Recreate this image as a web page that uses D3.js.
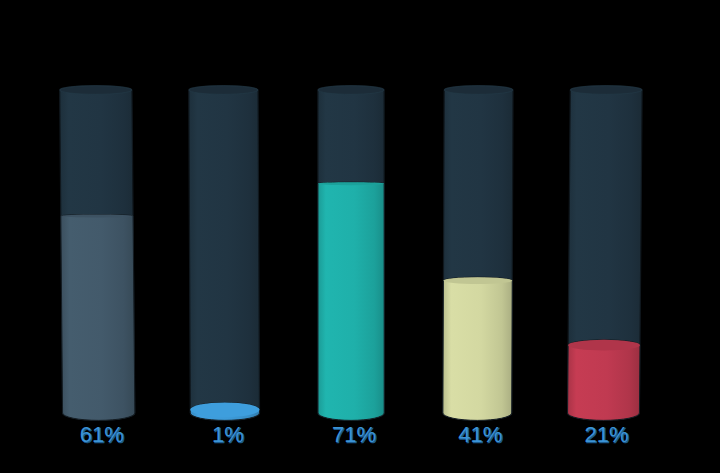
<!DOCTYPE html>
<html>
<head>
<meta charset="utf-8">
<script src="https://cdn.jsdelivr.net/npm/d3@7"></script>
<style>
  html, body { margin: 0; padding: 0; background: #000; }
  svg { display: block; }
</style>
</head>
<body>
<svg id="lienzo" width="720" height="473"></svg>
<script>
// datos del gráfico
const categorias = ['A', 'B', 'C', 'D', 'E'];
const valores = [61, 1, 71, 41, 21];
const etiquetas = ['61%', '1%', '71%', '41%', '21%'];
const colores = ['#435a6b', '#3d9bd9', '#1fb0aa', '#d3d8a1', '#c03a51'];

const ancho = 720, alto = 473;
const svg = d3.select('#lienzo');

svg.append('rect').attr('width', ancho).attr('height', alto).attr('fill', '#000');

const x = d3.scaleBand()
    .domain(categorias)
    .range([32, 670])
    .paddingInner(0.45)
    .paddingOuter(0.225);

const y = d3.scaleLinear()
    .domain([0, 100])
    .range([413, 90]);

// radio horizontal: los cilindros de los lados se ven algo más anchos
const rxDe = c => 33 * (1 + 0.00036 * Math.abs(c - 360));

// un poco de perspectiva: altura de la elipse según distancia a la línea de ojo
const ojoY = 200;
const ry = yy => 1 + 0.03 * Math.abs(yy - ojoY);
// inclinación de los cilindros hacia el centro en la parte baja
const cxAt = (c, yy) => {
    const t = (yy - y(100)) / (y(0) - y(100));
    return c + (360 - c) * 0.011 * t;
};

const defs = svg.append('defs');

function gradiente(id, color, k) {
    const c = d3.color(color);
    const g = defs.append('linearGradient').attr('id', id)
        .attr('x1', '0%').attr('x2', '100%').attr('y1', '0%').attr('y2', '0%');
    g.append('stop').attr('offset', '0%').attr('stop-color', c.darker(0.35 * k));
    g.append('stop').attr('offset', '12%').attr('stop-color', c.brighter(0.08 * k));
    g.append('stop').attr('offset', '55%').attr('stop-color', c);
    g.append('stop').attr('offset', '85%').attr('stop-color', c.darker(0.25 * k));
    g.append('stop').attr('offset', '100%').attr('stop-color', c.darker(0.6 * k));
}

gradiente('g-vacio', '#213543', 1);
colores.forEach((c, i) => gradiente('g-' + i, c, 1));

// cuerpo de cilindro entre yTop y yBot
function cuerpo(c, yTop, yBot) {
    const rx = rxDe(c);
    const xt = cxAt(c, yTop), xb = cxAt(c, yBot);
    const rt = ry(yTop), rb = ry(yBot);
    return `M${xt - rx},${yTop} L${xb - rx},${yBot} ` +
        `A${rx},${rb} 0 0 0 ${xb + rx},${yBot} ` +
        `L${xt + rx},${yTop} ` +
        `A${rx},${rt} 0 0 0 ${xt - rx},${yTop} Z`;
}

const centro = d => x(d.k) + x.bandwidth() / 2;

const grupos = svg.selectAll('g.cil')
    .data(categorias.map((k, i) => ({ k, i, v: valores[i], color: colores[i], label: etiquetas[i] })))
    .enter()
    .append('g')
    .attr('class', 'cil');

// contenedor vacío
grupos.append('path')
    .attr('d', d => cuerpo(centro(d), y(100), y(0)))
    .attr('fill', 'url(#g-vacio)')
    .attr('stroke', '#10181e')
    .attr('stroke-width', 1.2);

// relleno
grupos.append('path')
    .attr('d', d => cuerpo(centro(d), y(d.v), y(0)))
    .attr('fill', d => 'url(#g-' + d.i + ')')
    .attr('stroke', '#141c22')
    .attr('stroke-width', 1);

// tapa del relleno
grupos.append('ellipse')
    .attr('cx', d => cxAt(centro(d), y(d.v)))
    .attr('cy', d => y(d.v))
    .attr('rx', d => rxDe(centro(d)))
    .attr('ry', d => ry(y(d.v)))
    .attr('fill', d => d.v < 5 ? d3.color(d.color).brighter(0.05) : d3.color(d.color).darker(0.25));

// tapa superior del contenedor
grupos.append('ellipse')
    .attr('cx', d => cxAt(centro(d), y(100)))
    .attr('cy', y(100))
    .attr('rx', d => rxDe(centro(d)))
    .attr('ry', ry(y(100)))
    .attr('fill', '#1c2c38')
    .attr('stroke', '#243a48')
    .attr('stroke-width', 0.6);

// etiquetas con sombra
grupos.append('text')
    .attr('x', d => cxAt(centro(d), y(0)) + 4)
    .attr('y', 435)
    .attr('text-anchor', 'middle')
    .attr('dominant-baseline', 'central')
    .attr('font-family', 'Liberation Sans, Arial, sans-serif')
    .attr('font-size', '22px')
    .attr('fill', '#1d5c8e')
    .attr('stroke', '#1d5c8e')
    .attr('stroke-width', 0.6)
    .text(d => d.label);

grupos.append('text')
    .attr('x', d => cxAt(centro(d), y(0)) + 3)
    .attr('y', 434)
    .attr('text-anchor', 'middle')
    .attr('dominant-baseline', 'central')
    .attr('font-family', 'Liberation Sans, Arial, sans-serif')
    .attr('font-size', '22px')
    .attr('fill', '#3b93d6')
    .text(d => d.label);
</script>
</body>
</html>
